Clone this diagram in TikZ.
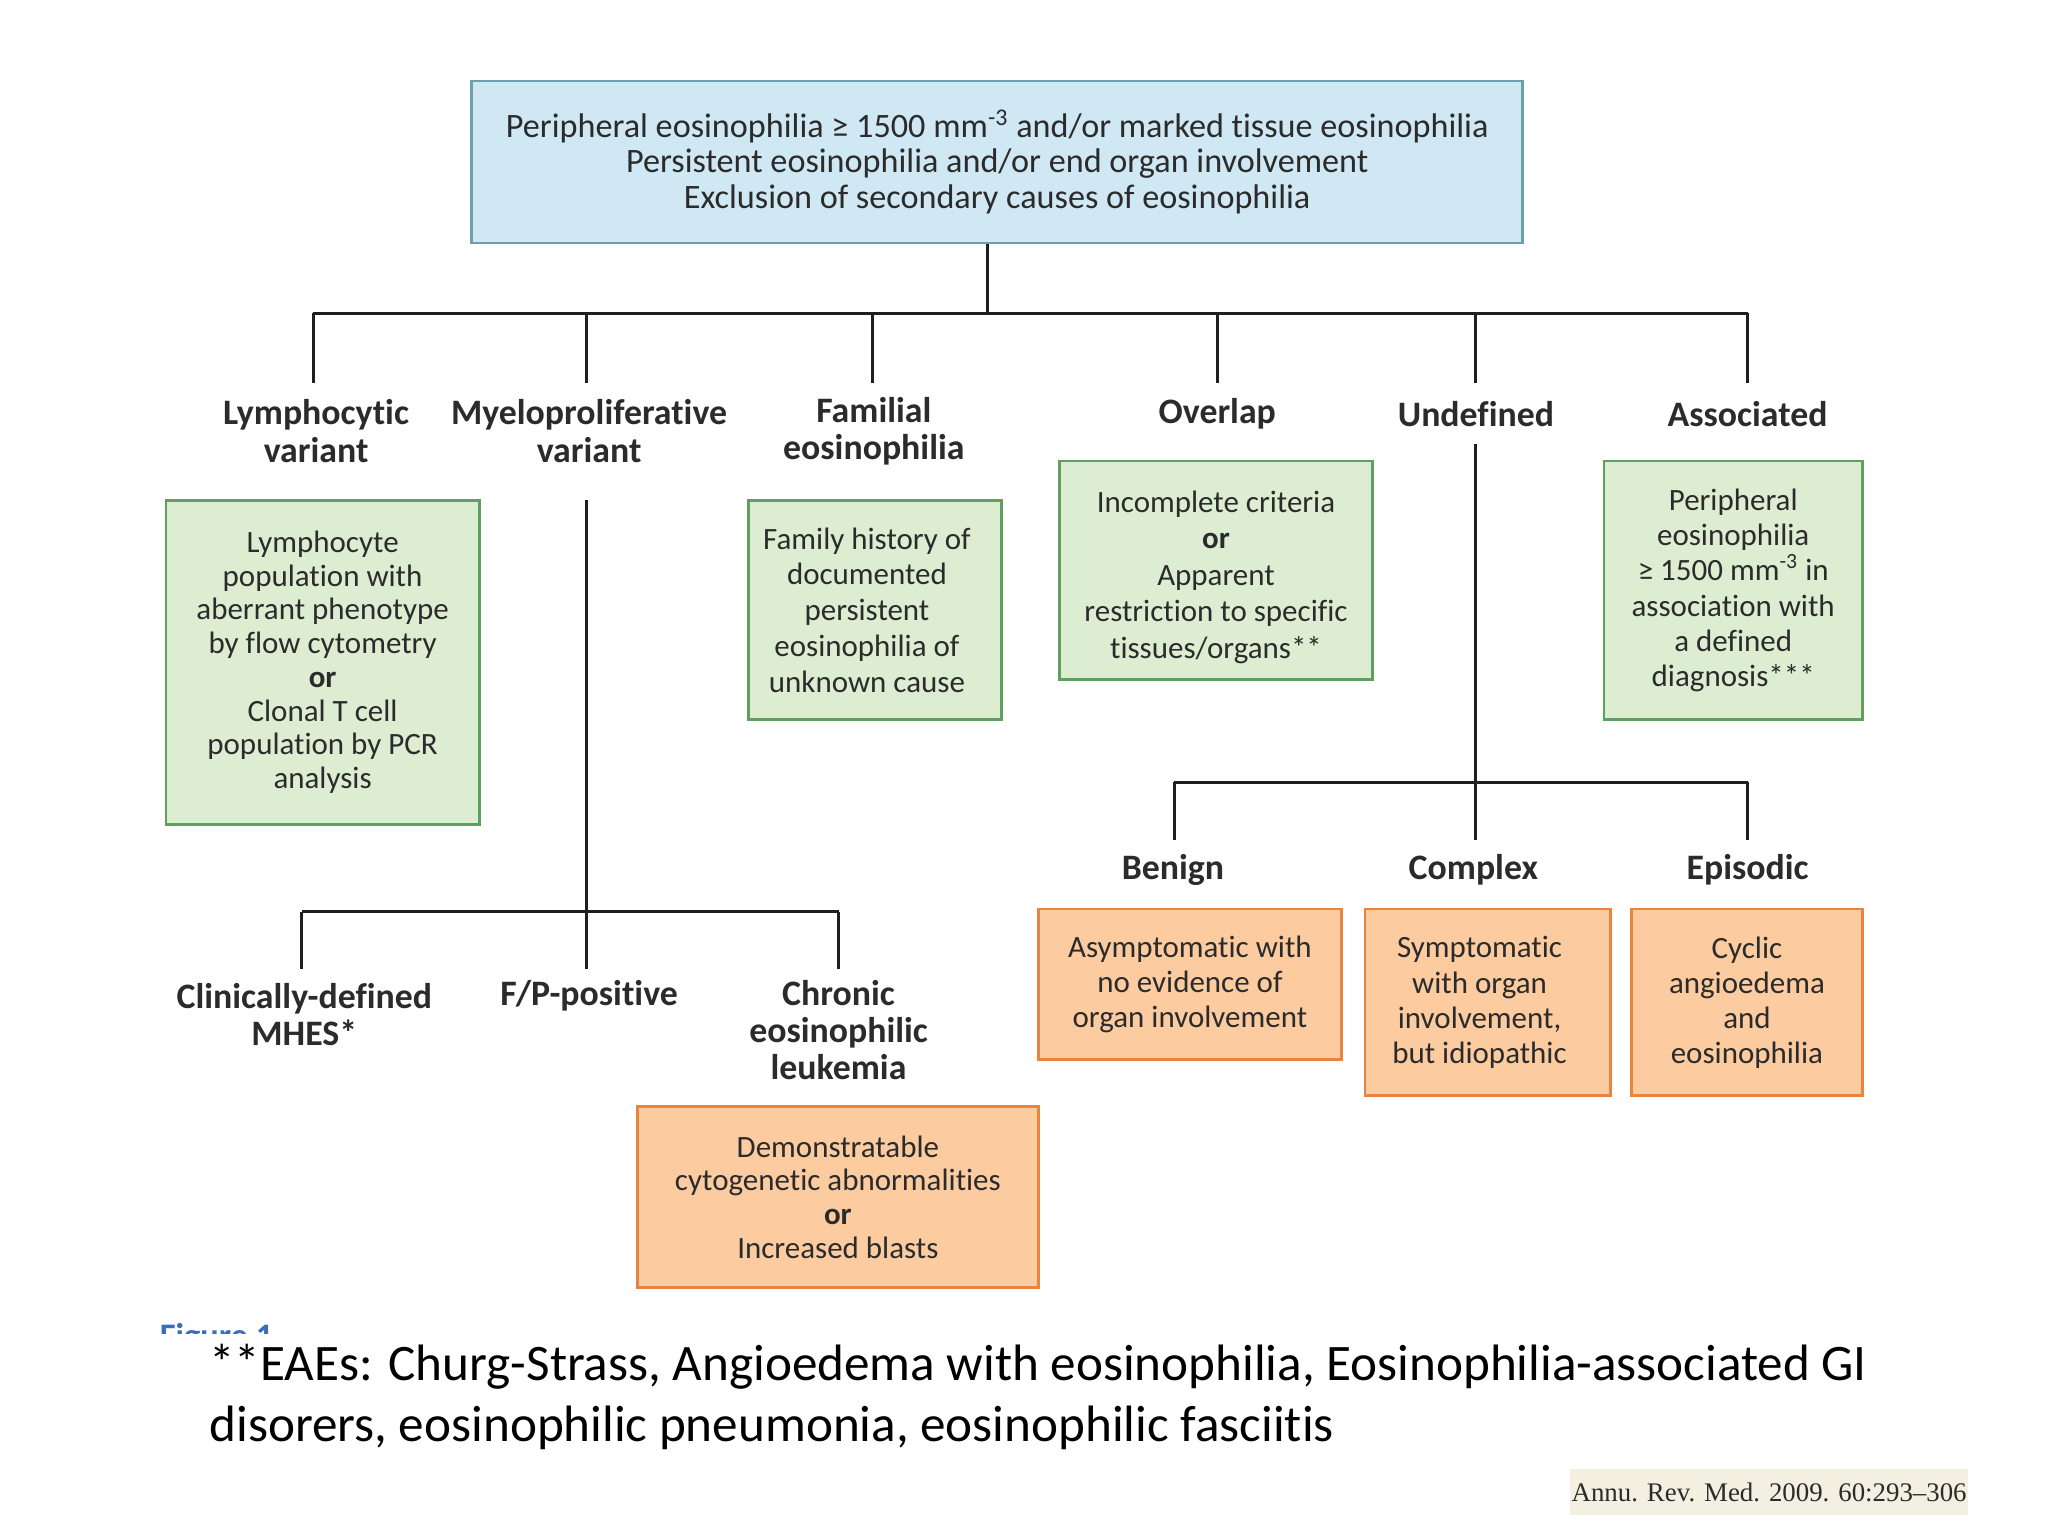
\documentclass[tikz,border=0pt]{standalone}
\usepackage{fontspec}
\setmainfont{Carlito}[Ligatures=NoCommon]
\newfontfamily\citef{Liberation Serif}
\definecolor{txt}{HTML}{2B2B2B}
\definecolor{bluefill}{HTML}{CFE8F4}
\definecolor{blueline}{HTML}{6E9FAE}
\definecolor{greenfill}{HTML}{DCEDD2}
\definecolor{greenline}{HTML}{5F9F5F}
\definecolor{orangefill}{HTML}{FCCB9F}
\definecolor{orangeline}{HTML}{E8843E}
\definecolor{linec}{HTML}{1F1F1F}
\definecolor{citebg}{HTML}{F3EFE1}
\definecolor{figblue}{HTML}{3A6FB5}
\begin{document}
\begin{tikzpicture}[x=0.02cm,y=-0.02cm,
  box/.style={draw, line width=1.2pt, text=txt, align=center, inner sep=0pt,
    font=\fontsize{13.5}{15.3}\selectfont},
  bbox/.style={box, fill=bluefill, draw=blueline, font=\fontsize{14.9}{15.4}\selectfont},
  gbox/.style={box, fill=greenfill, draw=greenline},
  obox/.style={box, fill=orangefill, draw=orangeline},
  lab/.style={font=\bfseries\fontsize{15.6}{16.2}\selectfont, text=txt, align=center, inner sep=0pt},
  conn/.style={draw=linec, line width=1.3pt}]
\useasboundingbox (0,0) rectangle (1568,1176);
\fill[white] (0,0) rectangle (1568,1176);

% top box
\node[bbox, minimum width=16.1cm, minimum height=2.48cm] (top) at (763.5,124)
  {Peripheral eosinophilia ≥ 1500 mm\textsuperscript{-3} and/or marked tissue eosinophilia\\
   Persistent eosinophilia and/or end organ involvement\\
   Exclusion of secondary causes of eosinophilia};

% first-level labels
\node[lab] (lym) at (242,330) {Lymphocytic\\variant};
\node[lab] (mye) at (451,330) {Myeloproliferative\\variant};
\node[lab] (fam) at (669,330) {Familial\\eosinophilia};
\node[lab] (ovl) at (932,317) {Overlap};
\node[lab] (und) at (1130,317) {Undefined};
\node[lab] (asc) at (1338,317) {Associated};

% green boxes
\node[gbox, minimum width=4.8cm, minimum height=4.96cm, font=\fontsize{13.5}{14.7}\selectfont] (lymbox) at (247,507)
  {Lymphocyte\\population with\\aberrant phenotype\\by flow cytometry\\\textbf{or}\\Clonal T cell\\population by PCR\\analysis};
\node[gbox, minimum width=3.88cm, minimum height=3.36cm, font=\fontsize{13.5}{15.6}\selectfont] (fambox) at (670,467)
  {\hspace*{-0.25cm}Family history of\\\hspace*{-0.25cm}documented\\\hspace*{-0.25cm}persistent\\\hspace*{-0.25cm}eosinophilia of\\\hspace*{-0.25cm}unknown cause};
\node[gbox, minimum width=4.8cm, minimum height=3.34cm, font=\fontsize{13.5}{15.9}\selectfont] (ovlbox) at (931,436.5)
  {\rule{0pt}{0.55cm}Incomplete criteria\\\textbf{or}\\Apparent\\restriction to specific\\tissues/organs**};
\node[gbox, minimum width=3.96cm, minimum height=3.96cm] (ascbox) at (1327,452)
  {Peripheral\\eosinophilia\\≥ 1500 mm\textsuperscript{-3} in\\association with\\a defined\\diagnosis***};

% main tree
\coordinate (b0) at (756,240);
\coordinate (bL) at (240,240);
\coordinate (bR) at (1338,240);
\coordinate (d1) at (240,293);
\coordinate (d2) at (449,293);
\coordinate (d3) at (668,293);
\coordinate (d4) at (932,293);
\coordinate (d5) at (1130,293);
\coordinate (d6) at (1338,293);
\draw[conn] (b0 |- top.south) -- (b0);
\draw[conn] (bL) -- (bR);
\foreach \d in {d1,d2,d3,d4,d5,d6} \draw[conn] (\d |- b0) -- (\d);

% myeloproliferative branch
\coordinate (m0) at (449,383);
\coordinate (m1) at (449,698);
\coordinate (mL) at (231,698);
\coordinate (mR) at (642,698);
\coordinate (e1) at (231,742);
\coordinate (e2) at (449,742);
\coordinate (e3) at (642,742);
\draw[conn] (m0) -- (m1);
\draw[conn] (mL) -- (mR);
\foreach \e in {e1,e2,e3} \draw[conn] (\e |- m1) -- (\e);

\node[lab] (mhes) at (233,777) {Clinically-defined\\MHES*};
\node[lab] (fp) at (451,762) {F/P-positive};
\node[lab] (cel) at (642,788.5) {Chronic\\eosinophilic\\leukemia};

\node[obox, minimum width=6.14cm, minimum height=2.78cm, font=\fontsize{13.5}{14.7}\selectfont] (celbox) at (641.5,916.5)
  {Demonstratable\\cytogenetic abnormalities\\\textbf{or}\\Increased blasts};

% undefined branch
\coordinate (u0) at (1130,340);
\coordinate (u1) at (1130,599);
\coordinate (uL) at (899,599);
\coordinate (uR) at (1338,599);
\coordinate (f1) at (899,643);
\coordinate (f2) at (1130,643);
\coordinate (f3) at (1338,643);
\draw[conn] (u0) -- (f2);
\draw[conn] (uL) -- (uR);
\draw[conn] (uL) -- (f1);
\draw[conn] (uR) -- (f3);

\node[lab] (ben) at (898,666) {Benign};
\node[lab] (cpx) at (1128,666) {Complex};
\node[lab] (epi) at (1338,666) {Episodic};

\node[obox, minimum width=4.64cm, minimum height=2.3cm] (benbox) at (911,753.5)
  {Asymptomatic with\\no evidence of\\organ involvement};
\node[obox, minimum width=3.76cm, minimum height=2.86cm] (cpxbox) at (1139,767.5)
  {\hspace*{-0.25cm}Symptomatic\\\hspace*{-0.25cm}with organ\\\hspace*{-0.25cm}involvement,\\\hspace*{-0.25cm}but idiopathic};
\node[obox, minimum width=3.54cm, minimum height=2.86cm] (epibox) at (1337.5,767.5)
  {Cyclic\\angioedema\\and\\eosinophilia};

% clipped figure caption
\begin{scope}
  \clip (110,1000) rectangle (230,1021);
  \node[anchor=base west, inner sep=0pt, text=figblue, font=\bfseries\fontsize{15}{16}\selectfont] (figcap) at (122,1032) {Figure 1};
\end{scope}

% footnote
\node[anchor=base west, inner sep=0pt, align=left, text=black, font=\fontsize{22.3}{26.7}\selectfont] (foot) at (160,1104)
  {**EAEs: Churg-Strass, Angioedema with eosinophilia, Eosinophilia-associated GI\\
   disorers, eosinophilic pneumonia, eosinophilic fasciitis};

% citation
\node[fill=citebg, minimum width=6.1cm, minimum height=0.7cm, inner sep=0pt, text=txt, font=\citef\fontsize{11.7}{13}\selectfont] (cite) at (1354.5,1142.5) {Annu. Rev. Med. 2009. 60:293–306};
\end{tikzpicture}
\end{document}
